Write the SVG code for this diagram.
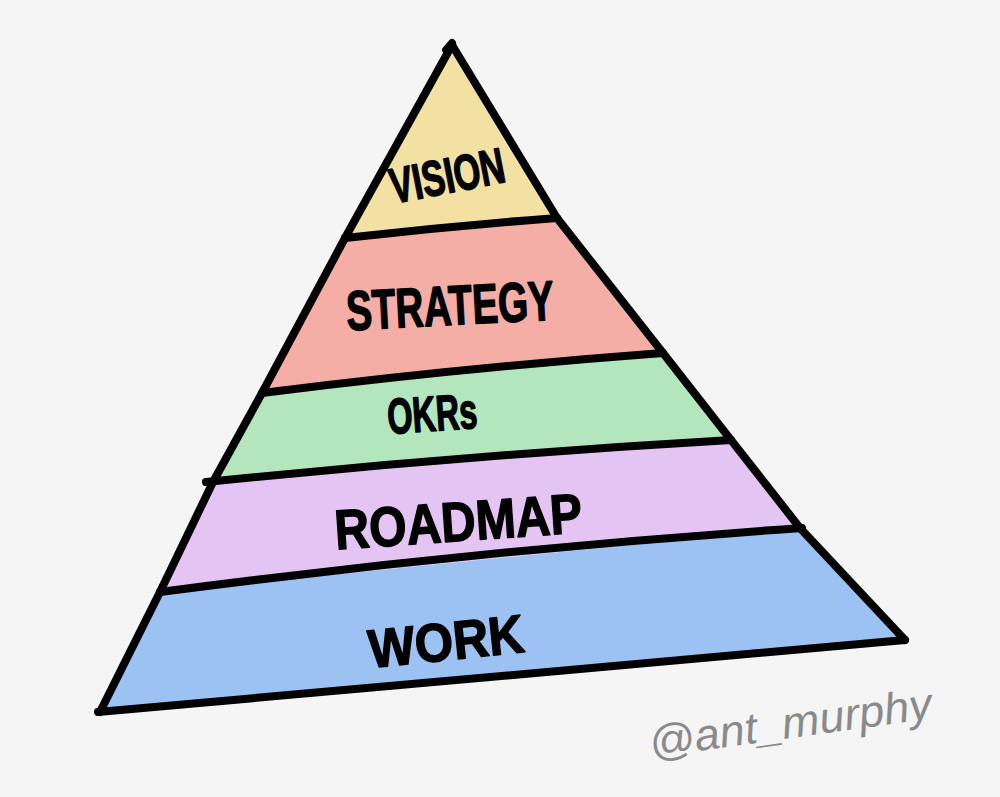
<svg xmlns="http://www.w3.org/2000/svg" width="1000" height="797" viewBox="0 0 1000 797">
<style>
.edge{fill:none;stroke:#000;stroke-width:8;stroke-linecap:round;stroke-linejoin:round}
.lbl{font-family:"Liberation Sans","DejaVu Sans",sans-serif;font-weight:bold;fill:#000;stroke:#000;stroke-width:1.5;stroke-linejoin:round;text-anchor:middle}
.sig{font-family:"Liberation Sans","DejaVu Sans",sans-serif;font-style:italic;fill:#8a8a8a;text-anchor:middle}
</style>
<rect width="1000" height="797" fill="#f5f5f5"/>
<g id="vision">
<polygon points="452,45 557,218 345,238" fill="#f3e1a3"/>
<text class="lbl" x="447" y="193" font-size="50" textLength="116" lengthAdjust="spacingAndGlyphs" transform="rotate(-11 447 175)">VISION</text>
</g>
<g id="strategy">
<polygon points="345,238 557,218 663,353 262,393" fill="#f4aea6"/>
<text class="lbl" x="450" y="325" font-size="56" textLength="208" lengthAdjust="spacingAndGlyphs" transform="rotate(-3 450 305)">STRATEGY</text>
</g>
<g id="okrs">
<polygon points="262,393 663,353 731,440 213,482" fill="#b4e6bd"/>
<text class="lbl" x="432" y="431" font-size="50" textLength="90" lengthAdjust="spacingAndGlyphs" transform="rotate(-4 432 412)">OKRs</text>
</g>
<g id="roadmap">
<polygon points="213,482 731,440 800,528 160,592" fill="#e3c4f3"/>
<text class="lbl" x="458" y="541" font-size="56" textLength="248" lengthAdjust="spacingAndGlyphs" transform="rotate(-4 458 518)">ROADMAP</text>
</g>
<g id="work">
<polygon points="160,592 800,528 905,640 100,712" fill="#9bc2f2"/>
<text class="lbl" x="446" y="660" font-size="54" textLength="156" lengthAdjust="spacingAndGlyphs" transform="rotate(-6 446 640)">WORK</text>
</g>
<g id="outline">
<path class="edge" d="M452,45 L557,218 L663,353 L731,440 L800,528 L905,640"/>
<path class="edge" d="M446,50 L452,43 M452,45 L345,238 L262,393 L213,482 L160,592 L100,712"/>
<path class="edge" d="M345,238 Q450,226 557,218"/>
<path class="edge" d="M262,393 Q460,368 663,353"/>
<path class="edge" d="M206,482 Q470,455 731,440"/>
<path class="edge" d="M160,592 Q480,550 802,528"/>
<path class="edge" d="M98,712 Q500,675 905,640"/>
</g>
<g id="signature">
<text class="sig" x="790" y="738" font-size="44" textLength="285" lengthAdjust="spacingAndGlyphs" transform="rotate(-8 790 722)">@ant_murphy</text>
</g>
</svg>
